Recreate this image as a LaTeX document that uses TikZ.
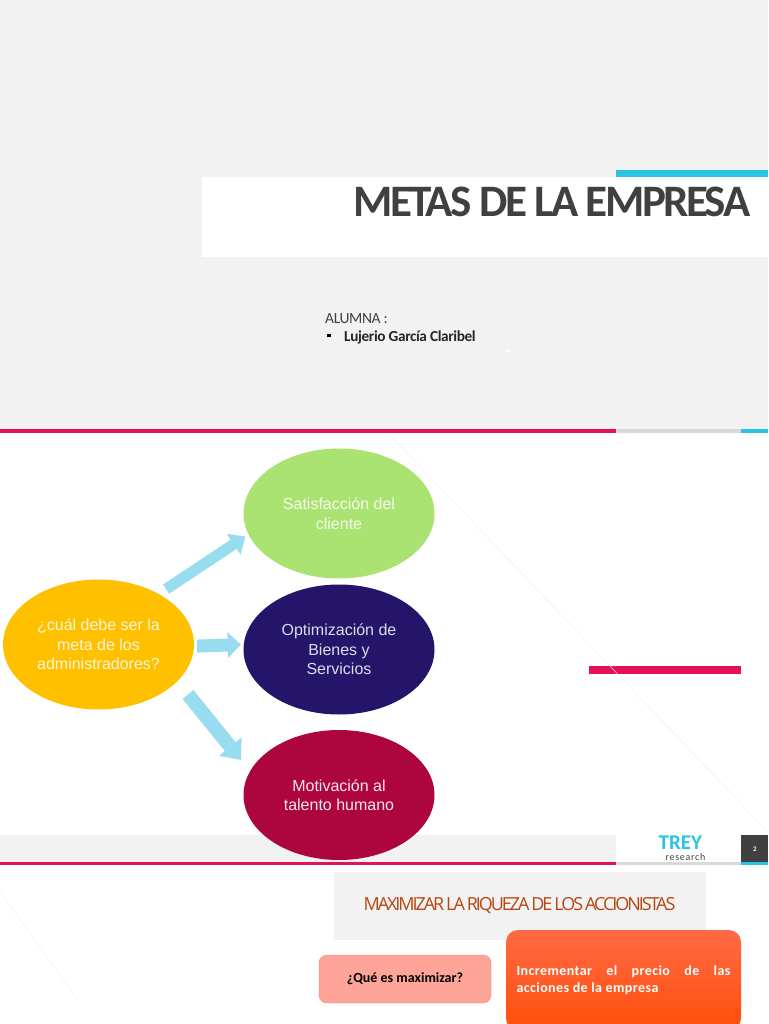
\documentclass[tikz,border=0pt]{standalone}
\usepackage{fontspec}
\setmainfont{Carlito}
\newfontfamily\bubblefont{Liberation Sans}
\newfontfamily\titlefont[LetterSpace=-5.8]{Carlito}
\newfontfamily\tightfont[LetterSpace=-2.5]{Carlito}
\newfontfamily\headfont[LetterSpace=-11.5]{Open Sans}
\newfontfamily\widefont[LetterSpace=7]{Carlito}
\newfontfamily\answerfont[LetterSpace=3]{Carlito}
\usetikzlibrary{arrows.meta,shapes.geometric}
\definecolor{panelgray}{HTML}{F2F2F2}
\definecolor{rulegray}{HTML}{D9D9D9}
\definecolor{treypink}{HTML}{E5105A}
\definecolor{treycyan}{HTML}{2CC4E4}
\definecolor{treydark}{HTML}{404040}
\definecolor{flowblue}{HTML}{97DCEF}
\definecolor{bubbleyellow}{HTML}{FFC000}
\definecolor{bubblegreen}{HTML}{ABE373}
\definecolor{bubblenavy}{HTML}{24156B}
\definecolor{bubblered}{HTML}{AD063F}
\definecolor{goalbrown}{HTML}{B8470F}
\definecolor{whatfill}{HTML}{FFA499}
\definecolor{whatedge}{HTML}{F08A78}
\definecolor{answertop}{HTML}{FF6A45}
\definecolor{answerbottom}{HTML}{FF4E0A}
\tikzset{
 bubble/.style={ellipse,minimum width=191pt,minimum height=130pt,inner sep=0,outer sep=0,align=center,font=\fontsize{16}{19.4}\selectfont\bubblefont},
 flow/.style={draw=flowblue,line width=12pt},
 faint/.style={draw=panelgray,line width=.5pt},
 questionbox/.style={rectangle,rounded corners=8pt,draw=whatedge,fill=whatfill,minimum width=172pt,minimum height=48pt,inner sep=0},
 answerbox/.style={rectangle,rounded corners=12pt,top color=answertop,bottom color=answerbottom,minimum width=235pt,minimum height=100pt,inner sep=0}
}
\begin{document}
\begin{tikzpicture}[x=1pt,y=-1pt]
\clip (0,0) rectangle (768,1024);
\fill[white] (0,0) rectangle (768,1024);
\fill[panelgray] (0,0) rectangle (768,430);
\fill[white] (202,177) rectangle (768,257);
\fill[treycyan] (616,170) rectangle (768,177);
\fill[treypink] (0,429) rectangle (616,433);
\fill[rulegray] (616,429) rectangle (741,433);
\fill[treycyan] (741,429) rectangle (768,433);
\fill[treypink] (589,666) rectangle (741,674);
\draw[faint] (390,435) -- (768,832);
\draw[faint] (0,892) -- (78,1000);
\fill[panelgray] (0,835) rectangle (616,862);
\fill[treydark] (741,835) rectangle (768,862);
\fill[treypink] (0,862) rectangle (616,865);
\fill[rulegray] (616,862) rectangle (741,865);
\fill[treycyan] (741,862) rectangle (768,865);
\fill[panelgray] (334,872) rectangle (706,940);
\node[anchor=base east,inner sep=0,text=treydark,font=\fontsize{45}{45}\selectfont\titlefont\bfseries] (title) at (750.5,217) {METAS DE LA EMPRESA};
\node[anchor=base west,inner sep=0,text=treydark,font=\fontsize{15.5}{15.5}\selectfont\tightfont] (alumna) at (325,323) {ALUMNA :};
\node[anchor=base west,inner sep=0,font=\fontsize{9}{9}\selectfont\bubblefont] (dot) at (327,337) {\rule{3.4pt}{3.4pt}};
\node[anchor=base west,inner sep=0,text=black!85,font=\fontsize{15.3}{15.3}\selectfont\tightfont\bfseries] (alumnaname) at (344,341) {Lujerio García Claribel};
\fill[white] (508,351) circle (2);
\node[bubble,fill=bubbleyellow,text=white!85!bubbleyellow] (ask) at (98.5,644.5) {¿cuál debe ser la\\meta de los\\administradores?};
\node[bubble,fill=bubblegreen,text=white!85!bubblegreen] (sat) at (339,513.5) {Satisfacción del\\cliente};
\node[bubble,fill=bubblenavy,text=white!85!bubblenavy] (opt) at (339,649.5) {Optimización de\\Bienes y\\Servicios};
\node[bubble,fill=bubblered,text=white!90!bubblered] (mot) at (339,795) {Motivación al\\talento humano};
\draw[flow,line width=11pt,-{Triangle[length=14pt,width=24pt]},shorten <=9pt,shorten >=3.8pt] (ask.40.4) -- (sat.193.5);
\draw[flow,line width=13pt,-{Triangle[length=13pt,width=25pt]},shorten <=3pt,shorten >=3pt] (ask.-1) -- (opt.177);
\draw[flow,line width=14pt,-{Triangle[length=17pt,width=28pt]},shorten <=17pt,shorten >=14.5pt] (ask.-25) -- (mot.165.6);
\node[anchor=base,inner sep=0,text=treycyan,font=\fontsize{21}{21}\selectfont] (trey) at (680.5,849) {\textbf{TREY}};
\node[anchor=base,inner sep=0,text=treydark,font=\fontsize{10}{10}\selectfont\widefont] (research) at (685.5,860) {research};
\node[inner sep=0,text=white,font=\fontsize{7}{7}\selectfont\bfseries] (pagenum) at (755,849) {2};
\node[inner sep=0,text=goalbrown,font=\fontsize{18}{18}\selectfont\headfont] (goal) at (519.5,905) {\spaceskip=2pt\relax MAXIMIZAR LA RIQUEZA DE LOS ACCIONISTAS};
\node[questionbox] (what) at (405,979) {\fontsize{14}{14}\selectfont\bfseries ¿Qué es maximizar?};
\node[answerbox,text=white] (answer) at (623.5,980) {\parbox{214pt}{\hyphenpenalty=10000\exhyphenpenalty=10000\fontsize{14}{17.5}\selectfont\answerfont\bfseries Incrementar el precio de las acciones de la empresa}};
\end{tikzpicture}
\end{document}
